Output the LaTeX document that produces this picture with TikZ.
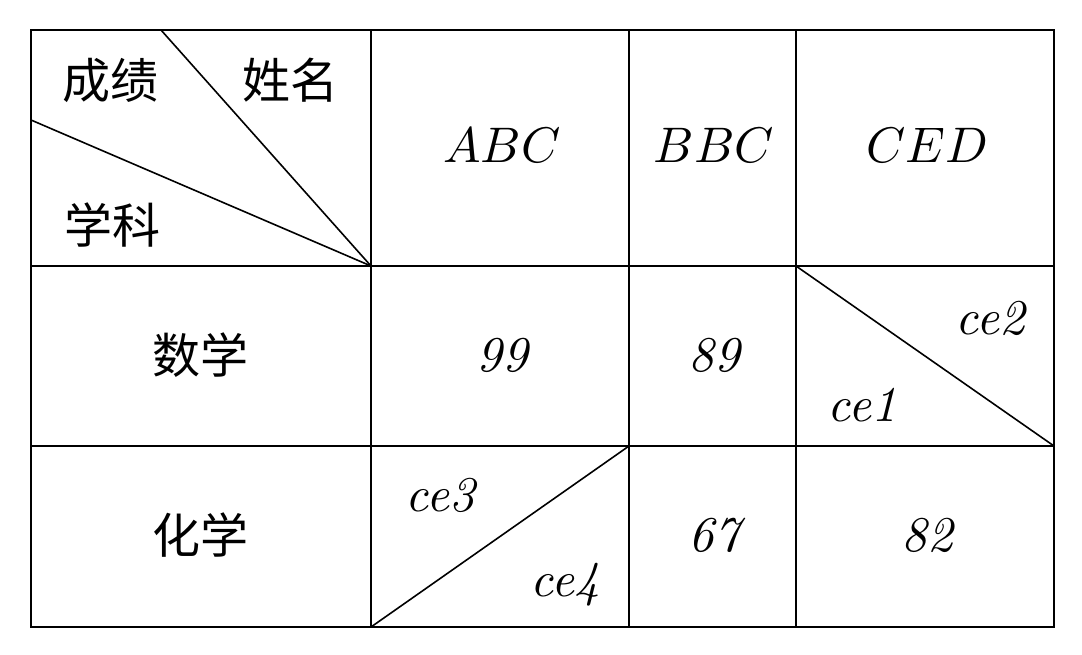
\documentclass[tikz,border=0pt]{standalone}
\usepackage{fontspec}
\newfontfamily\cjk{Noto Sans CJK SC}
\begin{document}
\begin{tikzpicture}[x=0.5pt,y=-0.5pt,
  t/.style={font=\fontsize{10}{12}\selectfont\itshape,scale=2.5,transform shape},
  c/.style={font=\fontsize{24}{30}\selectfont\cjk},
  ln/.style={line width=0.8pt}]
\useasboundingbox (0,0) rectangle (1082,654);
\draw[ln] (31,30) rectangle (1054,627);
\foreach \x in {371,629,796} \draw[ln] (\x,30) -- (\x,627);
\foreach \y in {266,446} \draw[ln] (31,\y) -- (1054,\y);
\coordinate (d1a) at (161,30); \coordinate (d1b) at (371,266);
\coordinate (d2a) at (31,120);
\coordinate (d3a) at (796,266); \coordinate (d3b) at (1054,446);
\coordinate (d4a) at (371,627); \coordinate (d4b) at (629,446);
\draw[ln] (d1a) -- (d1b); \draw[ln] (d2a) -- (d1b);
\draw[ln] (d3a) -- (d3b); \draw[ln] (d4a) -- (d4b);
\node[c] (n1) at (110,80) {成绩};
\node[c] (n2) at (290,80) {姓名};
\node[c] (n3) at (112,225) {学科};
\node[t] (h1) at (502,145) {$ABC$};
\node[t] (h2) at (714,145) {$BBC$};
\node[t] (h3) at (927,145) {$CED$};
\node[c] (r1) at (200,355) {数学};
\node[t] (v1) at (502,355) {99};
\node[t] (v2) at (714,355) {89};
\node[t] (v3) at (990,318) {ce2};
\node[t] (v4) at (862,405) {ce1};
\node[c] (r2) at (200,535) {化学};
\node[t] (v5) at (440,495) {ce3};
\node[t] (v6) at (565,585) {ce4};
\node[t] (v7) at (714,535) {67};
\node[t] (v8) at (927,535) {82};
\end{tikzpicture}
\end{document}
